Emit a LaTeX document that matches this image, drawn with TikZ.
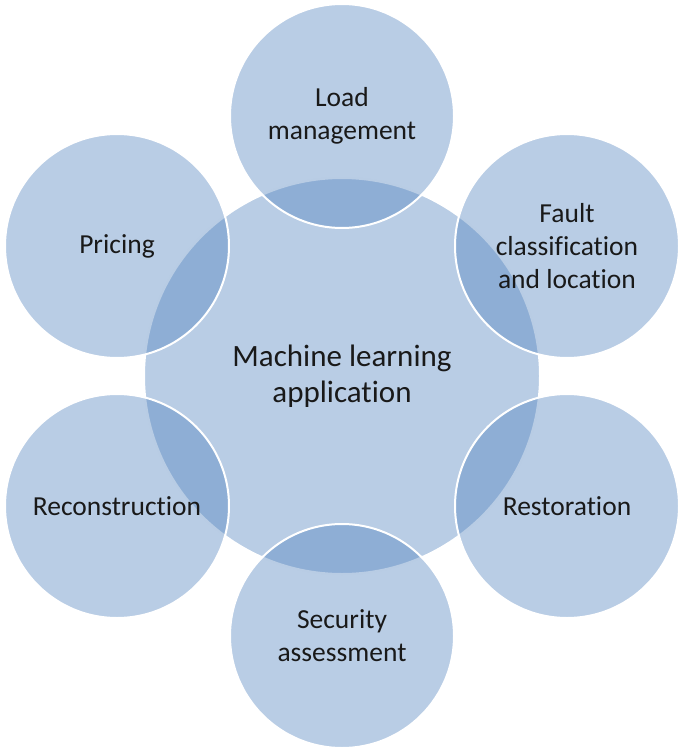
\documentclass[tikz,border=0pt]{standalone}
\usepackage{fontspec}
\setmainfont{Carlito}[Ligatures=NoCommon]
\definecolor{bubble}{HTML}{4F81BD}
\begin{document}
\begin{tikzpicture}[x=1pt,y=-1pt,
  bub/.style={circle, inner sep=0pt, fill=bubble, fill opacity=0.4, text opacity=1,
    draw=white, line width=2pt, align=center, text=black!90},
  outer/.style={bub, minimum size=224pt, font=\fontsize{27.5}{33}\selectfont},
  hub/.style={bub, minimum size=396pt, font=\fontsize{31}{36}\selectfont}]
\useasboundingbox (0,0) rectangle (685,749);
\node[hub] (c) at (342,376) {Machine learning\\application};
\node[outer] (load) at (342,116) {Load\\management};
\node[outer] (fault) at (567,246) {Fault\\classification\\and location};
\node[outer] (rest) at (567,506) {Restoration};
\node[outer] (sec) at (342,636) {Security\\assessment};
\node[outer] (recon) at (117,506) {Reconstruction};
\node[outer] (price) at (117,246) {Pricing};
\end{tikzpicture}
\end{document}
